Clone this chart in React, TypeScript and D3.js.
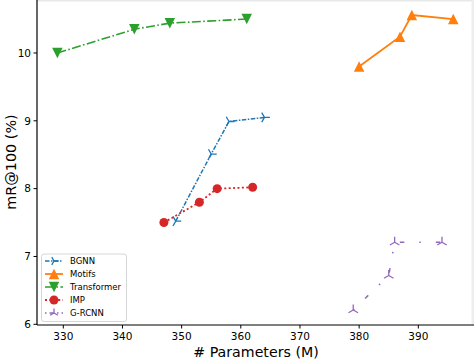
import React from "react";
import * as d3 from "d3";

const W = 474;
const H = 359;

const xTicks = [330, 340, 350, 360, 370, 380, 390];
const yTicks = [6, 7, 8, 9, 10];

const bgnnX = [349, 355, 358, 364];
const bgnnY = [7.52, 8.51, 8.99, 9.05];
const motifsX = [380, 386.9, 388.9, 395.9];
const motifsY = [9.8, 10.24, 10.56, 10.5];
const transformerX = [329, 342, 348, 361];
const transformerY = [10.0, 10.35, 10.44, 10.5];
const impX = [347, 353, 356, 362];
const impY = [7.5, 7.8, 8.0, 8.02];
const grcnnX = [379, 385, 386, 394];
const grcnnY = [6.21, 6.72, 7.21, 7.21];

const seriesNames = ["BGNN", "Motifs", "Transformer", "IMP", "G-RCNN"];

type Marker = "triRight" | "triUpMarker" | "triangleUp" | "triangleDown" | "circle";

const series = [
  { name: seriesNames[0], xs: bgnnX, ys: bgnnY, color: "#1f77b4", dash: "4.5,1.5,1.5,1.5", marker: "triRight" as Marker, lw: 1.5 },
  { name: seriesNames[1], xs: motifsX, ys: motifsY, color: "#ff7f0e", dash: "", marker: "triangleUp" as Marker, lw: 1.8 },
  { name: seriesNames[2], xs: transformerX, ys: transformerY, color: "#2ca02c", dash: "9,2.4,1.6,2.4", marker: "triangleDown" as Marker, lw: 1.6 },
  { name: seriesNames[3], xs: impX, ys: impY, color: "#d62728", dash: "2,2.4", marker: "circle" as Marker, lw: 1.8 },
  { name: seriesNames[4], xs: grcnnX, ys: grcnnY, color: "#9467bd", dash: "1.5,15,4.5,15", marker: "triUpMarker" as Marker, lw: 1.5 },
];

const FONT = "DejaVu Sans, Liberation Sans, sans-serif";

function MarkerShape({ type, cx, cy, color, s }: { type: Marker; cx: number; cy: number; color: string; s: number }) {
  const h = s / 2;
  if (type === "circle") return <circle cx={cx} cy={cy} r={h * 0.9} fill={color} />;
  if (type === "triangleUp")
    return <path d={`M${cx},${cy - h}L${cx - h},${cy + h}L${cx + h},${cy + h}Z`} fill={color} />;
  if (type === "triangleDown")
    return <path d={`M${cx},${cy + h}L${cx - h},${cy - h}L${cx + h},${cy - h}Z`} fill={color} />;
  if (type === "triRight") {
    const a = h;
    return (
      <path
        d={`M${cx},${cy}L${cx + a},${cy}M${cx},${cy}L${cx - a * 0.5},${cy - a * 0.866}M${cx},${cy}L${cx - a * 0.5},${cy + a * 0.866}`}
        stroke={color}
        strokeWidth={1.3}
        fill="none"
      />
    );
  }
  const a = h;
  return (
    <path
      d={`M${cx},${cy}L${cx},${cy - a}M${cx},${cy}L${cx - a * 0.866},${cy + a * 0.5}M${cx},${cy}L${cx + a * 0.866},${cy + a * 0.5}`}
      stroke={color}
      strokeWidth={1.3}
      fill="none"
    />
  );
}

export default function App() {
  const left = 37;
  const bottom = 325;
  const pxPerX = 5.917;
  const x0 = 330 - (63.3 - left) / pxPerX;
  const x = d3.scaleLinear().domain([x0, x0 + (W - left) / pxPerX]).range([left, W]);
  const pxPerY = 67.83;
  const y = d3.scaleLinear().domain([6 - (bottom - 324.3) / pxPerY, 6 + 324.3 / pxPerY]).range([bottom, 0]);

  const line = d3
    .line<[number, number]>()
    .x((d) => x(d[0]))
    .y((d) => y(d[1]));

  const legX = 41.5;
  const legY = 254;
  const legW = 85;
  const legH = 67.5;
  const rowH = 13;

  return (
    <svg width={W} height={H} style={{ position: "absolute", left: 0, top: 0, background: "#fff" }} fontFamily={FONT}>
      <rect x={0} y={0} width={W} height={H} fill="#fff" />
      <rect x={left} y={0} width={W - left} height={1.5} fill="#e8e8e8" />
      <rect x={W - 2.5} y={0} width={2.5} height={bottom} fill="#eeeeee" />

      {series.map((s) => (
        <g key={s.name}>
          <path
            d={line(s.xs.map((v, i) => [v, s.ys[i]] as [number, number])) || ""}
            fill="none"
            stroke={s.color}
            strokeWidth={s.lw}
            strokeDasharray={s.dash || undefined}
          />
          {s.xs.map((v, i) => (
            <MarkerShape key={i} type={s.marker} cx={x(v)} cy={y(s.ys[i])} color={s.color} s={s.marker === "circle" ? 10 : s.marker.startsWith("tri") && !s.marker.startsWith("triangle") ? 11 : 10.5} />
          ))}
        </g>
      ))}

      {/* axes */}
      <line x1={left} y1={0} x2={left} y2={bottom} stroke="#000" strokeWidth={1.2} />
      <line x1={left} y1={bottom} x2={W} y2={bottom} stroke="#000" strokeWidth={1.2} />
      {xTicks.map((t) => (
        <g key={t}>
          <line x1={x(t)} x2={x(t)} y1={bottom} y2={bottom + 3.5} stroke="#000" strokeWidth={1} />
          <text x={x(t)} y={bottom + 15} textAnchor="middle" fontSize={10.5} fill="#000">
            {t}
          </text>
        </g>
      ))}
      {yTicks.map((t) => (
        <g key={t}>
          <line x1={left - 3.5} x2={left} y1={y(t)} y2={y(t)} stroke="#000" strokeWidth={1} />
          <text x={left - 6} y={y(t)} dy="0.36em" textAnchor="end" fontSize={10.5} fill="#000">
            {t}
          </text>
        </g>
      ))}
      <text x={256} y={357} textAnchor="middle" fontSize={14.2} fill="#000">
        # Parameters (M)
      </text>
      <text transform={`translate(16,162) rotate(-90)`} textAnchor="middle" fontSize={14.4} fill="#000">
        mR@100 (%)
      </text>

      {/* legend */}
      <rect x={legX} y={legY} width={legW} height={legH} rx={2.5} fill="#fff" fillOpacity={0.8} stroke="#cccccc" strokeWidth={0.8} />
      {series.map((s, i) => {
        const cy = legY + 7 + i * rowH;
        return (
          <g key={s.name}>
            <line x1={45} x2={63} y1={cy} y2={cy} stroke={s.color} strokeWidth={s.lw} strokeDasharray={s.dash ? (s.marker === "triUpMarker" ? "1.5,3,4.5,3" : s.dash) : undefined} />
            <MarkerShape type={s.marker} cx={54} cy={cy} color={s.color} s={s.marker === "circle" ? 10 : s.marker.startsWith("tri") && !s.marker.startsWith("triangle") ? 9 : 10.5} />
            <text x={70} y={cy} dy="0.36em" fontSize={8.5} fill="#000">
              {s.name}
            </text>
          </g>
        );
      })}
    </svg>
  );
}
